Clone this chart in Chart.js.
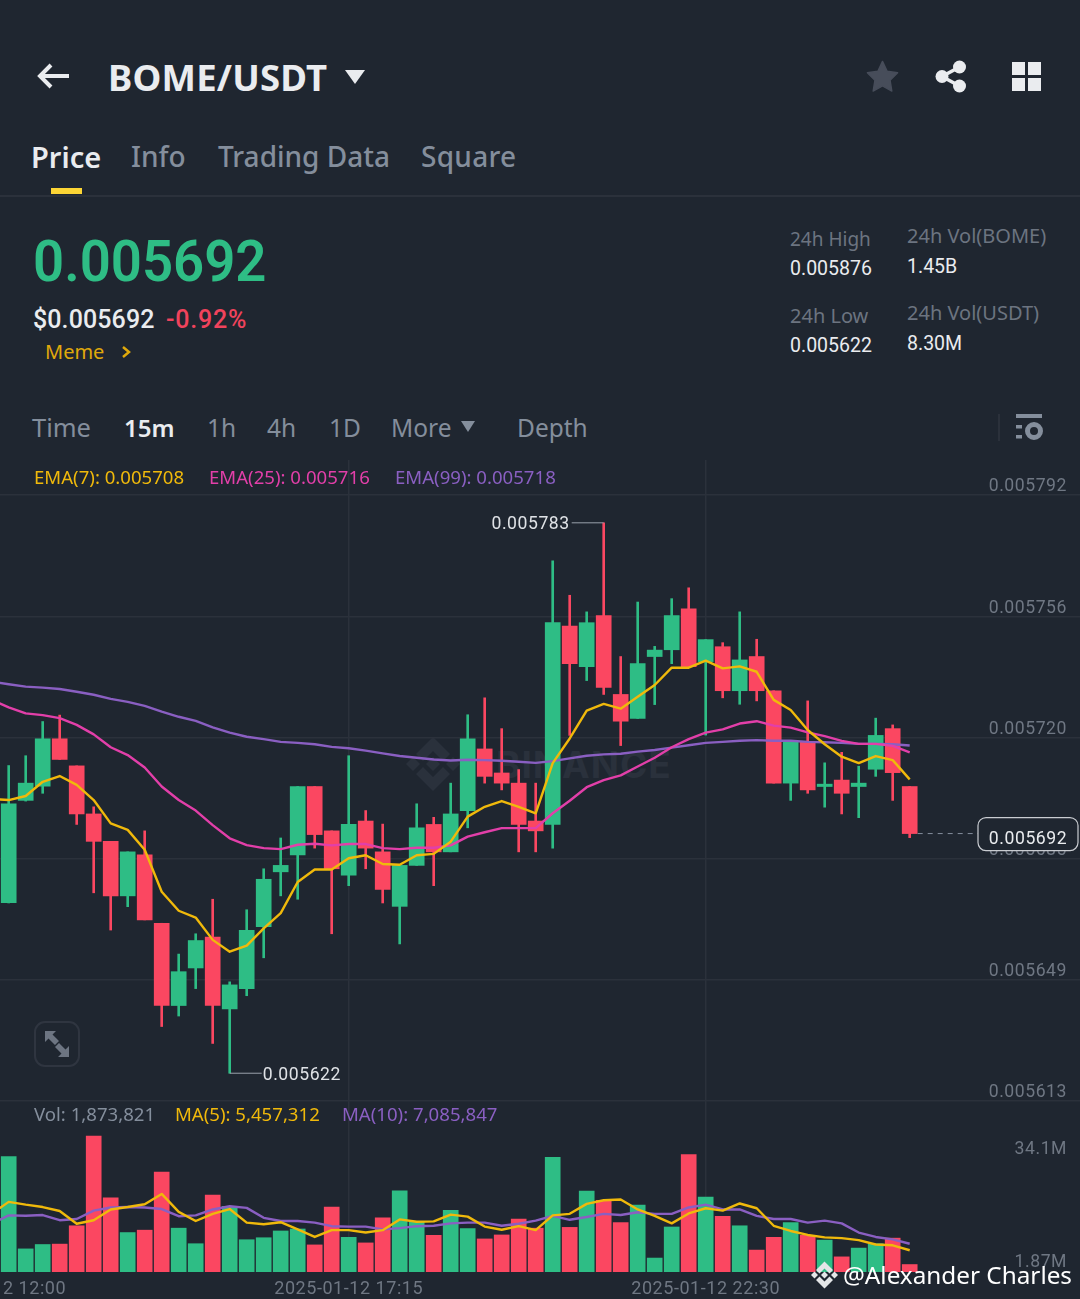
<!DOCTYPE html>
<html><head><meta charset="utf-8">
<script src="https://cdn.jsdelivr.net/npm/chart.js@4"></script>
<style>
html,body{margin:0;padding:0;background:#1f2630;width:1080px;height:1299px;overflow:hidden}
#page{position:relative;width:1080px;height:1299px;overflow:hidden;font-family:"Noto Sans",sans-serif}
.t{position:absolute;white-space:nowrap;transform:translateY(-50%);line-height:1}
.n{font-family:Roboto,sans-serif;transform-origin:left center}
.g{color:#848e9c}.w{color:#eaecef}.d{color:#6c7480}
canvas{position:absolute;left:-120px;top:460px}
svg{position:absolute;overflow:visible}
.hl{position:absolute;left:0;width:1080px;height:1.5px;background:#2b313b}
</style></head><body><div id="page">
<div class="t" style="top:764px;font:700 37px Inter,sans-serif;color:#2a313c;left:496px;letter-spacing:1px;z-index:0">BINANCE</div>
<svg style="left:406px;top:737px;z-index:0" width="54" height="54" viewBox="0 0 54 54"><g fill="#2a313c"><path d="M27 0 44 17 37 24 27 14 17 24 10 17Z"/><path d="M27 54 10 37 17 30 27 40 37 30 44 37Z"/><path d="M0 27 7 20 14 27 7 34Z"/><path d="M40 27 47 20 54 27 47 34Z"/><path d="M27 20 34 27 27 34 20 27Z"/></g></svg>

<svg style="left:37px;top:62px" width="32" height="28"><path d="M32 14H4M14 3 3 14 14 25" fill="none" stroke="#eaecef" stroke-width="4"/></svg>
<div class="t w" style="left:108px;top:77px;font-size:36.5px;font-weight:700;letter-spacing:.2px">BOME/USDT</div>
<svg style="left:345px;top:70px" width="20" height="14"><path d="M0 0H20L10 14Z" fill="#eaecef"/></svg>
<svg style="left:866px;top:60px" width="33" height="33" viewBox="0 0 24 24"><path d="M12 1 15.4 8.2 23 9.3 17.5 14.7 18.8 22.6 12 18.9 5.2 22.6 6.5 14.7 1 9.3 8.6 8.2Z" fill="#474d5a" stroke="#474d5a" stroke-linejoin="round"/></svg>
<svg style="left:935px;top:60px" width="32" height="33"><g fill="#eaecef"><circle cx="24.5" cy="7" r="6.5"/><circle cx="24.5" cy="26" r="6.5"/><circle cx="7" cy="16.5" r="6.5"/></g><path d="M24.5 7 7 16.5 24.5 26" fill="none" stroke="#eaecef" stroke-width="3.5"/></svg>
<svg style="left:1012px;top:62px" width="29" height="29"><g fill="#eaecef"><rect width="13" height="13"/><rect x="16" width="13" height="13"/><rect y="16" width="13" height="13"/><rect x="16" y="16" width="13" height="13"/></g></svg>

<div class="t w" style="left:31px;top:156px;font-size:29px;font-weight:600">Price</div>
<div class="t g" style="left:131px;top:156px;font-size:28px;font-weight:500">Info</div>
<div class="t g" style="left:218px;top:156px;font-size:28px;font-weight:500">Trading Data</div>
<div class="t g" style="left:421px;top:156px;font-size:28px;font-weight:500;letter-spacing:.3px">Square</div>
<div style="position:absolute;left:51px;top:188px;width:31px;height:6px;background:#fcd535"></div>
<div class="hl" style="top:195px"></div>

<div class="t n" style="left:33px;top:261px;font-size:58px;font-weight:600;color:#2ebd85;transform:translateY(-50%) scaleX(.94)">0.005692</div>
<div class="t n" style="left:33px;top:319px;font-size:25px;font-weight:500;color:#eaecef;letter-spacing:.1px">$0.005692</div>
<div class="t n" style="left:166px;top:319px;font-size:25px;font-weight:500;color:#f0435c;letter-spacing:.8px">-0.92%</div>
<div class="t" style="left:45px;top:352px;font-size:20px;color:#e0a90b">Meme</div>
<svg style="left:121px;top:345px" width="10" height="14"><path d="M2 2 8 7 2 12" fill="none" stroke="#e0a90b" stroke-width="2.5"/></svg>

<div class="t d" style="left:790px;top:239px;font-size:19px">24h High</div>
<div class="t w n" style="left:790px;top:268px;font-size:21px;transform:translateY(-50%) scaleX(.93)">0.005876</div>
<div class="t d" style="left:907px;top:236px;font-size:20px">24h Vol(BOME)</div>
<div class="t w n" style="left:907px;top:266px;font-size:21px;transform:translateY(-50%) scaleX(.93)">1.45B</div>
<div class="t d" style="left:790px;top:316px;font-size:20px">24h Low</div>
<div class="t w n" style="left:790px;top:345px;font-size:21px;transform:translateY(-50%) scaleX(.93)">0.005622</div>
<div class="t d" style="left:907px;top:313px;font-size:20px">24h Vol(USDT)</div>
<div class="t w n" style="left:907px;top:343px;font-size:21px;transform:translateY(-50%) scaleX(.93)">8.30M</div>

<div class="t g" style="left:32px;top:428px;font-size:25.5px">Time</div>
<div class="t w" style="left:124px;top:428px;font-size:24px;font-weight:600">15m</div>
<div class="t g" style="left:207px;top:428px;font-size:24.5px">1h</div>
<div class="t g" style="left:267px;top:428px;font-size:24.5px">4h</div>
<div class="t g" style="left:329px;top:428px;font-size:24.5px">1D</div>
<div class="t g" style="left:391px;top:428px;font-size:24.5px">More</div>
<svg style="left:461px;top:421px" width="14" height="11"><path d="M0 0H14L7 11Z" fill="#848e9c"/></svg>
<div class="t g" style="left:517px;top:428px;font-size:24.5px">Depth</div>
<div style="position:absolute;left:998px;top:414px;width:1.5px;height:27px;background:#2b313b"></div>
<svg style="left:1016px;top:414px" width="27" height="27"><g fill="#848e9c"><rect width="26" height="4"/><rect y="11" width="6" height="3.5"/><rect y="21" width="6" height="3.5"/></g><circle cx="18" cy="17" r="6.5" fill="none" stroke="#848e9c" stroke-width="5"/></svg>

<div class="t" style="left:34px;top:477px;font-size:18.6px;color:#f0b90b;z-index:3"><span id="l7"></span></div>
<div class="t" style="left:209px;top:477px;font-size:18.6px;color:#e23fa9;z-index:3"><span id="l25"></span></div>
<div class="t" style="left:395px;top:477px;font-size:18.6px;color:#8a5fc2;z-index:3"><span id="l99"></span></div>
<div class="t g" style="left:34px;top:1114px;font-size:18.6px;z-index:3"><span id="lv"></span></div>
<div class="t" style="left:175px;top:1114px;font-size:18.6px;color:#f0b90b;z-index:3"><span id="lm5"></span></div>
<div class="t" style="left:342px;top:1114px;font-size:18.6px;color:#8a5fc2;z-index:3"><span id="lm10"></span></div>

<canvas id="c" width="1200" height="839" style="width:1200px;height:839px;z-index:1"></canvas>

<svg style="left:34px;top:1021px;z-index:2" width="46" height="46"><rect x="1" y="1" width="44" height="44" rx="10" fill="#1f2630" stroke="#2f3540" stroke-width="2"/><g fill="#6d7582"><path d="M11 10H22L18.5 13.5 25 20 21 24 14.5 17.5 11 21Z"/><path d="M35 36H24L27.5 32.5 21 26 25 22 31.5 28.5 35 25Z"/></g></svg>

<svg style="left:811px;top:1261px;z-index:4" width="27" height="28" viewBox="0 0 54 54"><g fill="#e4e6e8"><path d="M27 0 44 17 37 24 27 14 17 24 10 17Z"/><path d="M27 54 10 37 17 30 27 40 37 30 44 37Z"/><path d="M0 27 7 20 14 27 7 34Z"/><path d="M40 27 47 20 54 27 47 34Z"/><path d="M27 20 34 27 27 34 20 27Z"/></g></svg>
<div class="t" style="left:843px;top:1275px;font-size:24.3px;color:#fff;z-index:4">@Alexander Charles</div>
</div>
<script>
const timeLabels=['2025-01-12 12:00','2025-01-12 17:15','2025-01-12 22:30'];
const timeTickIndex=[-1,20,41];
const priceTicks=[0.005792,0.0057562,0.0057204,0.0056846,0.0056488,0.005613];
const highLabel='0.005783', lowLabel='0.005622';
const opens=[0.0056716,0.0057018,0.0057060,0.0057200,0.0057120,0.0056978,0.0056897,0.0056736,0.0056857,0.0056655,
0.0056412,0.0056523,0.0056614,0.0056402,0.0056462,0.0056645,0.0056807,0.0056857,0.0057059,0.0056928,
0.0056797,0.0056957,0.0056866,0.0056705,0.0056826,0.0056947,0.0056866,0.0056988,0.0057170,0.0057099,
0.0057069,0.0056957,0.0056947,0.0057533,0.0057413,0.0057564,0.0057331,0.0057260,0.0057443,0.0057463,
0.0057584,0.0057428,0.0057472,0.0057342,0.0057443,0.0057342,0.0057069,0.0057190,0.0057059,0.0057078,
0.0057059,0.0057110,0.0057230,0.0057059];
const closes=[0.0057008,0.0057069,0.0057200,0.0057139,0.0056978,0.0056897,0.0056736,0.0056866,0.0056665,0.0056412,
0.0056512,0.0056604,0.0056412,0.0056473,0.0056634,0.0056785,0.0056826,0.0057059,0.0056917,0.0056816,
0.0056947,0.0056877,0.0056755,0.0056826,0.0056937,0.0056866,0.0056978,0.0057200,0.0057089,0.0057069,
0.0056947,0.0056928,0.0057543,0.0057422,0.0057543,0.0057352,0.0057252,0.0057422,0.0057462,0.0057564,
0.0057413,0.0057493,0.0057342,0.0057433,0.0057342,0.0057069,0.0057190,0.0057049,0.0057066,0.0057039,
0.0057069,0.0057210,0.0057100,0.0056920];
const highs=[0.0057121,0.0057150,0.0057251,0.0057270,0.0057120,0.0056999,0.0056897,0.0056866,0.0056928,0.0056655,
0.0056564,0.0056624,0.0056726,0.0056482,0.0056695,0.0056816,0.0056907,0.0057059,0.0057059,0.0056928,
0.0057150,0.0056988,0.0056948,0.0056826,0.0057008,0.0056968,0.0057069,0.0057271,0.0057321,0.0057230,
0.0057109,0.0057069,0.0057726,0.0057624,0.0057575,0.0057838,0.0057443,0.0057604,0.0057473,0.0057614,
0.0057646,0.0057493,0.0057484,0.0057575,0.0057494,0.0057342,0.0057190,0.0057312,0.0057129,0.0057160,
0.0057119,0.0057261,0.0057241,0.0057059];
const lows=[0.0056715,0.0057016,0.0057039,0.0057139,0.0056947,0.0056745,0.0056635,0.0056704,0.0056665,0.0056350,
0.0056381,0.0056462,0.0056300,0.0056212,0.0056441,0.0056553,0.0056736,0.0056726,0.0056877,0.0056624,
0.0056766,0.0056816,0.0056715,0.0056594,0.0056826,0.0056766,0.0056866,0.0056937,0.0057069,0.0057049,
0.0056866,0.0056866,0.0056877,0.0057210,0.0057372,0.0057331,0.0057180,0.0057260,0.0057301,0.0057422,
0.0057413,0.0057211,0.0057321,0.0057302,0.0057312,0.0057069,0.0057018,0.0057039,0.0056998,0.0056978,
0.0056967,0.0057089,0.0057018,0.0056908];
const priorEma7=0.0057022, priorEma25=0.0057315, priorEma99=0.0057369;
const ema7=[0.0057019,0.0057031,0.0057073,0.0057090,0.0057064,0.0057019,0.0056950,0.0056931,0.0056872,0.0056748,
0.0056692,0.0056672,0.0056606,0.0056571,0.0056589,0.0056640,0.0056685,0.0056777,0.0056814,0.0056814,
0.0056847,0.0056856,0.0056830,0.0056828,0.0056856,0.0056860,0.0056896,0.0056970,0.0056999,0.0057016,
0.0056999,0.0056980,0.0057128,0.0057201,0.0057283,0.0057303,0.0057289,0.0057324,0.0057359,0.0057410,
0.0057410,0.0057431,0.0057408,0.0057414,0.0057398,0.0057315,0.0057285,0.0057226,0.0057184,0.0057147,
0.0057128,0.0057149,0.0057137,0.005708];
const ema25=[0.0057293,0.0057275,0.0057270,0.0057261,0.0057241,0.0057213,0.0057175,0.0057152,0.0057115,0.0057059,
0.0057019,0.0056988,0.0056945,0.0056906,0.0056886,0.0056877,0.0056874,0.0056887,0.0056890,0.0056885,
0.0056889,0.0056889,0.0056877,0.0056874,0.0056878,0.0056878,0.0056885,0.0056911,0.0056924,0.0056936,
0.0056936,0.0056936,0.0056980,0.0057017,0.0057057,0.0057078,0.0057092,0.0057118,0.0057144,0.0057175,
0.0057199,0.0057218,0.0057228,0.0057245,0.0057252,0.0057239,0.0057233,0.0057219,0.0057208,0.0057194,
0.0057185,0.0057185,0.0057179,0.005716];
const ema99=[0.0057361,0.0057354,0.0057351,0.0057347,0.0057339,0.0057330,0.0057318,0.0057309,0.0057297,0.0057280,
0.0057265,0.0057253,0.0057234,0.0057218,0.0057206,0.0057199,0.0057191,0.0057188,0.0057184,0.0057176,
0.0057172,0.0057165,0.0057157,0.0057149,0.0057144,0.0057139,0.0057136,0.0057138,0.0057137,0.0057135,
0.0057132,0.0057129,0.0057134,0.0057142,0.0057150,0.0057154,0.0057156,0.0057162,0.0057167,0.0057174,
0.0057181,0.0057188,0.0057191,0.0057194,0.0057196,0.0057194,0.0057194,0.0057191,0.0057190,0.0057188,
0.0057185,0.0057185,0.0057184,0.005718];
const volumes=[29.0e6,5.8e6,6.9e6,7.0e6,11.6e6,34.1e6,18.6e6,9.9e6,10.5e6,25.1e6,
11.0e6,7.1e6,19.3e6,16.5e6,8.1e6,8.6e6,10.3e6,10.8e6,6.8e6,16.3e6,
8.7e6,7.3e6,13.6e6,20.4e6,12.6e6,9.2e6,15.5e6,10.9e6,8.3e6,9.3e6,
13.3e6,11.0e6,28.8e6,11.2e6,20.3e6,18.0e6,12.4e6,16.8e6,3.5e6,11.3e6,
29.5e6,18.8e6,14.0e6,11.6e6,5.5e6,8.7e6,12.4e6,9.2e6,8.0e6,3.8e6,
6.0e6,7.1e6,8.5e6,1873821];
const priorMa5=14.6e6, priorMa10=12.1e6;
const ma5=[17.6e6,16.9e6,16.3e6,15.3e6,12.1e6,13.0e6,15.7e6,16.3e6,17.0e6,19.6e6,
15.1e6,12.8e6,14.6e6,15.8e6,12.4e6,12.0e6,12.5e6,10.7e6,8.8e6,10.5e6,
10.5e6,9.9e6,10.5e6,13.2e6,12.6e6,12.7e6,14.4e6,13.9e6,11.4e6,10.6e6,
11.5e6,10.5e6,14.2e6,14.6e6,17.1e6,18.0e6,18.2e6,15.7e6,14.1e6,12.2e6,
14.7e6,16.0e6,15.4e6,17.2e6,16.0e6,11.6e6,10.3e6,9.3e6,8.7e6,8.5e6,
8.0e6,6.9e6,6.7e6,5457312];
const ma10=[14.2e6,14.1e6,14.3e6,13.0e6,13.3e6,15.4e6,16.2e6,16.3e6,16.2e6,15.8e6,
14.0e6,14.2e6,15.7e6,16.5e6,16.1e6,13.6e6,12.8e6,12.8e6,12.4e6,11.5e6,
11.4e6,11.4e6,10.7e6,11.0e6,11.5e6,11.6e6,12.2e6,12.4e6,12.4e6,11.6e6,
12.1e6,12.9e6,14.1e6,13.1e6,13.8e6,14.6e6,14.3e6,15.0e6,14.6e6,14.6e6,
16.2e6,16.9e6,15.7e6,15.7e6,14.1e6,13.3e6,13.3e6,12.4e6,12.9e6,12.2e6,
9.9e6,8.8e6,8.2e6,7085847];
const volumeTickTop=34.1e6;
const volumeTickBottom=1873821;

const GREEN='#2ebd85',RED='#fb4761',YEL='#f0b90b',PINK='#e23fa9',PUR='#8a5fc2',GRID='#2b313b';
const idx=opens.map((_,i)=>i);
const dirColors=idx.map(i=>closes[i]>=opens[i]?GREEN:RED);
const fmtP=v=>v.toFixed(6);
const fmtInt=v=>Math.round(v).toLocaleString('en-US');
document.getElementById('l7').textContent='EMA(7): '+fmtP(ema7[53]);
document.getElementById('l25').textContent='EMA(25): '+fmtP(ema25[53]);
document.getElementById('l99').textContent='EMA(99): '+fmtP(ema99[53]);
document.getElementById('lv').textContent='Vol: '+fmtInt(volumes[53]);
document.getElementById('lm5').textContent='MA(5): '+fmtInt(ma5[53]);
document.getElementById('lm10').textContent='MA(10): '+fmtInt(ma10[53]);

const pts=(a,prior)=>[{x:-1,y:prior},...a.map((y,i)=>({x:i,y}))];
const line=(a,prior,color,axis)=>({type:'line',data:pts(a,prior),borderColor:color,borderWidth:2.4,pointRadius:0,tension:0,borderJoinStyle:'round',yAxisID:axis,order:0});
const bar=(data,colors,w,axis,order)=>({type:'bar',data,backgroundColor:colors,barThickness:w,grouped:false,yAxisID:axis,order,borderWidth:0});

const AXFONT={family:'Roboto',size:17.6};
const extrema=idx.reduce((m,i)=>({hi:highs[i]>highs[m.hi]?i:m.hi,lo:lows[i]<lows[m.lo]?i:m.lo}),{hi:0,lo:0});
const noPad=s=>{s.width=0;s.paddingTop=0;s.paddingBottom=0;};

const annotations={id:'annotations',
 beforeDraw(c){c.ctx.letterSpacing='0.55px'},
 afterDatasetsDraw(c){
  const ctx=c.ctx,x=c.scales.x,y=c.scales.y;
  ctx.save();ctx.font='17.6px Roboto';ctx.textBaseline='middle';ctx.strokeStyle='#9aa1ab';ctx.lineWidth=1;
  ctx.fillStyle='#dfe2e6';
  const hx=x.getPixelForValue(extrema.hi),hy=y.getPixelForValue(highs[extrema.hi]);
  ctx.beginPath();ctx.moveTo(hx,hy);ctx.lineTo(hx-32,hy);ctx.stroke();
  ctx.textAlign='right';ctx.fillText(highLabel,hx-34,hy+2);
  const lx=x.getPixelForValue(extrema.lo),ly=y.getPixelForValue(lows[extrema.lo]);
  ctx.beginPath();ctx.moveTo(lx,ly);ctx.lineTo(lx+32,ly);ctx.stroke();
  ctx.textAlign='left';ctx.fillText(lowLabel,lx+33,ly+2);
  const last=closes[closes.length-1],py=y.getPixelForValue(last),px=x.getPixelForValue(closes.length-1);
  ctx.setLineDash([5,5]);ctx.strokeStyle='#848e9c';ctx.beginPath();ctx.moveTo(px+8,py);ctx.lineTo(c.chartArea.right-102,py);ctx.stroke();ctx.setLineDash([]);
  const tx=c.chartArea.right-102,tw=100,th=33;
  ctx.beginPath();ctx.roundRect(tx,py-16,tw,th,8);ctx.fillStyle='#1f2630';ctx.fill();ctx.strokeStyle='#c9ccd1';ctx.lineWidth=1.2;ctx.stroke();
  ctx.fillStyle='#eaecef';ctx.textAlign='center';ctx.fillText(fmtP(last),tx+tw/2,py+6);
  ctx.restore();
 }};

new Chart(document.getElementById('c'),{
 data:{datasets:[
  line(ema7,priorEma7,YEL,'y'),line(ema25,priorEma25,PINK,'y'),line(ema99,priorEma99,PUR,'y'),
  bar(idx.map(i=>({x:i,y:[opens[i],closes[i]]})),dirColors,15,'y',1),
  bar(idx.map(i=>({x:i,y:[lows[i],highs[i]]})),dirColors,2,'y',2),
  line(ma5,priorMa5,YEL,'v'),line(ma10,priorMa10,PUR,'v'),
  bar(idx.map(i=>({x:i,y:volumes[i]})),dirColors,15,'v',3),
  {type:'line',data:[],yAxisID:'v2'}
 ]},
 options:{responsive:false,animation:false,devicePixelRatio:1,
  layout:{padding:0},
  plugins:{legend:{display:false},tooltip:{enabled:false}},
  scales:{
   x:{type:'linear',offset:false,min:(-120-8.7)/17,max:(1080-8.7)/17,
    afterBuildTicks(s){s.ticks=timeTickIndex.map(value=>({value}))},
    afterFit(s){s.height=27;s.paddingLeft=0;s.paddingRight=0},
    grid:{color:GRID,lineWidth:1.5,drawTicks:false,offset:false},border:{display:false},
    ticks:{autoSkip:false,maxRotation:0,padding:7,color:'#6f7783',font:{family:'Roboto',size:18},
     callback:v=>timeLabels[timeTickIndex.indexOf(v)]}},
   y:{position:'right',min:0.00556248,max:0.00580236,afterFit:noPad,
    afterBuildTicks(s){s.ticks=priceTicks.map(value=>({value}))},
    grid:{color:GRID,lineWidth:1.5,drawTicks:false},border:{display:false},
    ticks:{mirror:true,padding:-13,labelOffset:-8,color:'#6f7783',font:AXFONT,callback:v=>fmtP(v)}},
   v:{position:'right',min:0,max:203.8e6,afterFit:noPad,
    afterBuildTicks(s){s.ticks=[{value:volumeTickTop}]},
    grid:{display:false},border:{display:false},
    ticks:{mirror:true,padding:-13,labelOffset:13,color:'#6f7783',font:AXFONT,callback:v=>(v/1e6).toFixed(1)+'M'}},
   v2:{position:'right',min:0,max:203.8e6,afterFit:noPad,
    afterBuildTicks(s){s.ticks=[{value:volumeTickBottom}]},
    grid:{display:false},border:{display:false},
    ticks:{mirror:true,padding:-13,labelOffset:-2,color:'#6f7783',font:AXFONT,callback:v=>(v/1e6).toFixed(2)+'M'}}
  }},
 plugins:[annotations]
});
</script></body></html>
